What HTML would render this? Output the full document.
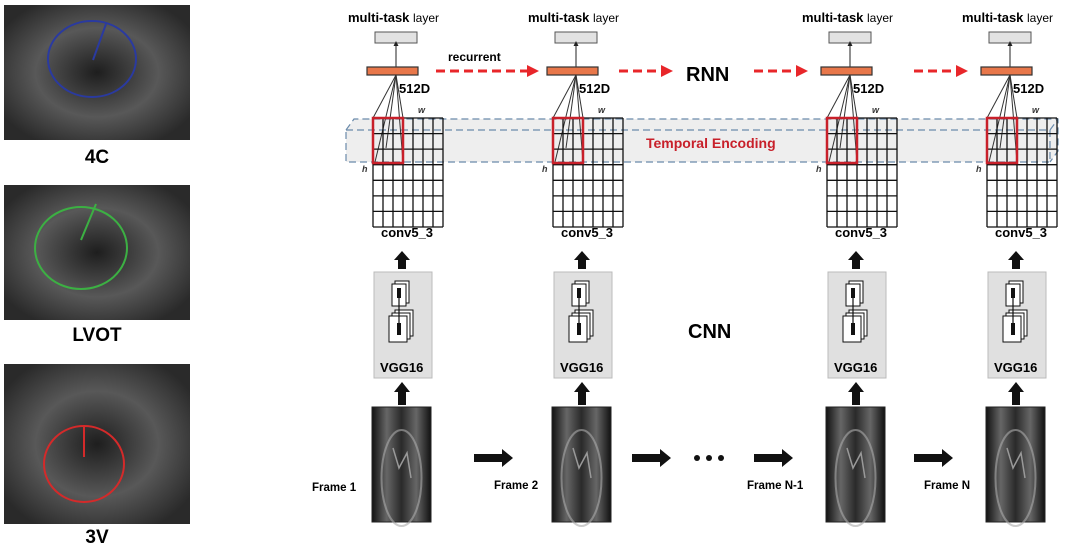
<!DOCTYPE html>
<html><head><meta charset="utf-8"><style>
html,body{margin:0;padding:0;background:#fff;width:1088px;height:548px;overflow:hidden}
svg{display:block}
text{font-family:"Liberation Sans",sans-serif;font-weight:bold}
</style></head><body>
<svg width="1088" height="548" viewBox="0 0 1088 548" xmlns="http://www.w3.org/2000/svg">
<defs>
<radialGradient id="us" cx="50%" cy="50%" r="60%">
<stop offset="0" stop-color="#1e1e1e"/><stop offset="0.55" stop-color="#585858"/><stop offset="1" stop-color="#2a2a2a"/>
</radialGradient>
<linearGradient id="fr" x1="0" y1="0" x2="1" y2="0">
<stop offset="0" stop-color="#111"/><stop offset="0.25" stop-color="#666"/><stop offset="0.5" stop-color="#2a2a2a"/><stop offset="0.75" stop-color="#666"/><stop offset="1" stop-color="#111"/>
</linearGradient>
<g id="col">
<rect x="2" y="-86" width="42" height="11" fill="#e2e2e2" stroke="#555" stroke-width="1"/>
<line x1="23" y1="-51" x2="23" y2="-74" stroke="#222" stroke-width="1"/>
<path d="M20.5,-72 L23,-77 L25.5,-72Z" fill="#222"/>
<rect x="-6" y="-51" width="51" height="8" fill="#e8774a" stroke="#333" stroke-width="1.2"/>
<g stroke="#333" stroke-width="1" fill="none">
<line x1="23" y1="-43" x2="0" y2="0"/><line x1="23" y1="-43" x2="30" y2="0"/>
<line x1="23" y1="-43" x2="2" y2="44"/><line x1="23" y1="-43" x2="30" y2="44"/>
<line x1="23" y1="-43" x2="13" y2="30"/>
</g>
<g stroke="#111" stroke-width="1.3">
<line x1="0" y1="0" x2="0" y2="109"/><line x1="10" y1="0" x2="10" y2="109"/><line x1="20" y1="0" x2="20" y2="109"/><line x1="30" y1="0" x2="30" y2="109"/><line x1="40" y1="0" x2="40" y2="109"/><line x1="50" y1="0" x2="50" y2="109"/><line x1="60" y1="0" x2="60" y2="109"/><line x1="70" y1="0" x2="70" y2="109"/>
<line x1="0" y1="0" x2="70" y2="0"/><line x1="0" y1="15.6" x2="70" y2="15.6"/><line x1="0" y1="31.1" x2="70" y2="31.1"/><line x1="0" y1="46.7" x2="70" y2="46.7"/><line x1="0" y1="62.3" x2="70" y2="62.3"/><line x1="0" y1="77.9" x2="70" y2="77.9"/><line x1="0" y1="93.4" x2="70" y2="93.4"/><line x1="0" y1="109" x2="70" y2="109"/>
</g>
<rect x="0" y="0" width="30" height="45" fill="none" stroke="#c8202a" stroke-width="2.5"/>
<path d="M25,151 v-9 h-4 l8,-9 l8,9 h-4 v9z" fill="#111"/>
<rect x="1" y="154" width="58" height="106" fill="#e0e0e0" stroke="#bbb"/>
<rect x="22" y="163" width="14" height="22" fill="#fff" stroke="#111"/>
<rect x="19" y="166" width="14" height="22" fill="#fff" stroke="#111"/>
<rect x="24" y="170" width="4" height="10" fill="#111"/>
<rect x="22" y="192" width="18" height="26" fill="#fff" stroke="#111"/>
<rect x="19" y="195" width="18" height="26" fill="#fff" stroke="#111"/>
<rect x="16" y="198" width="18" height="26" fill="#fff" stroke="#111"/>
<line x1="26" y1="180" x2="26" y2="215" stroke="#111" stroke-width="1.2"/>
<rect x="24" y="205" width="4" height="12" fill="#111"/>
<path d="M25,287 v-13 h-4 l8,-10 l8,10 h-4 v13z" fill="#111"/>
<rect x="-1" y="289" width="59" height="115" fill="url(#fr)" stroke="#222"/>
<ellipse cx="28.5" cy="360" rx="20" ry="48" fill="none" stroke="#aaa" stroke-width="2" opacity="0.6"/>
<path d="M20,330 l6,20 l8,-15 l4,25" fill="none" stroke="#999" stroke-width="1.5"/>
</g>
<g id="harr"><path d="M0,454 h28 v-5 l11,9 l-11,9 v-5 h-28z" fill="#111"/></g>
</defs>

<!-- left images -->
<rect x="4" y="5" width="186" height="135" fill="url(#us)"/>
<ellipse cx="92" cy="59" rx="44" ry="38" fill="none" stroke="#2a3aa0" stroke-width="2"/>
<line x1="93" y1="60" x2="106" y2="24" stroke="#2a3aa0" stroke-width="2"/>
<text x="97" y="163" font-size="19" text-anchor="middle">4C</text>
<rect x="4" y="185" width="186" height="135" fill="url(#us)"/>
<ellipse cx="81" cy="248" rx="46" ry="41" fill="none" stroke="#3cb043" stroke-width="2"/>
<line x1="81" y1="240" x2="96" y2="204" stroke="#3cb043" stroke-width="2"/>
<text x="97" y="341" font-size="19" text-anchor="middle">LVOT</text>
<rect x="4" y="364" width="186" height="160" fill="url(#us)"/>
<ellipse cx="84" cy="464" rx="40" ry="38" fill="none" stroke="#d42a2a" stroke-width="2"/>
<line x1="84" y1="426" x2="84" y2="457" stroke="#d42a2a" stroke-width="2"/>
<text x="97" y="543" font-size="19" text-anchor="middle">3V</text>

<!-- temporal band -->
<path d="M354,119 H1058 V151 L1050,162 H346 V130Z" fill="#eeeeee" stroke="none"/>
<g fill="none" stroke="#6b8bab" stroke-width="1.2" stroke-dasharray="7,4">
<path d="M346,130 H1050 V162 H346Z"/>
<path d="M346,130 L354,119 H1058 V151 L1050,162"/>
<line x1="1050" y1="130" x2="1058" y2="119"/>
</g>

<use href="#col" transform="translate(373,118)"/>
<use href="#col" transform="translate(553,118)"/>
<use href="#col" transform="translate(827,118)"/>
<use href="#col" transform="translate(987,118)"/>

<g font-size="13">
<text x="348" y="22">multi-task <tspan font-size="12" font-weight="normal">layer</tspan></text>
<text x="528" y="22">multi-task <tspan font-size="12" font-weight="normal">layer</tspan></text>
<text x="802" y="22">multi-task <tspan font-size="12" font-weight="normal">layer</tspan></text>
<text x="962" y="22">multi-task <tspan font-size="12" font-weight="normal">layer</tspan></text>
<text x="399" y="93">512D</text><text x="579" y="93">512D</text><text x="853" y="93">512D</text><text x="1013" y="93">512D</text>
<text x="381" y="237">conv5_3</text><text x="561" y="237">conv5_3</text><text x="835" y="237">conv5_3</text><text x="995" y="237">conv5_3</text>
<text x="380" y="372">VGG16</text><text x="560" y="372">VGG16</text><text x="834" y="372">VGG16</text><text x="994" y="372">VGG16</text>
</g>
<g font-size="9" font-style="italic" font-weight="normal" fill="#333">
<text x="418" y="113">w</text><text x="598" y="113">w</text><text x="872" y="113">w</text><text x="1032" y="113">w</text>
<text x="362" y="172">h</text><text x="542" y="172">h</text><text x="816" y="172">h</text><text x="976" y="172">h</text>
</g>
<g font-size="11.5">
<text x="312" y="491">Frame 1</text><text x="494" y="489">Frame 2</text><text x="747" y="489">Frame N-1</text><text x="924" y="489">Frame N</text>
</g>
<text x="448" y="61" font-size="12">recurrent</text>
<text x="686" y="81" font-size="20">RNN</text>
<text x="688" y="338" font-size="20">CNN</text>
<text x="646" y="148" font-size="14" fill="#c8202a">Temporal Encoding</text>

<g stroke="#e8262a" stroke-width="3" stroke-dasharray="9,5" fill="none">
<line x1="436" y1="71" x2="528" y2="71"/>
<line x1="619" y1="71" x2="662" y2="71"/>
<line x1="754" y1="71" x2="797" y2="71"/>
<line x1="914" y1="71" x2="957" y2="71"/>
</g>
<g fill="#e8262a">
<path d="M527,65 l12,6 l-12,6z"/><path d="M661,65 l12,6 l-12,6z"/><path d="M796,65 l12,6 l-12,6z"/><path d="M956,65 l12,6 l-12,6z"/>
</g>

<use href="#harr" transform="translate(474,0)"/>
<use href="#harr" transform="translate(632,0)"/>
<use href="#harr" transform="translate(754,0)"/>
<use href="#harr" transform="translate(914,0)"/>
<g fill="#111"><circle cx="697" cy="458" r="3"/><circle cx="709" cy="458" r="3"/><circle cx="721" cy="458" r="3"/></g>
</svg>
</body></html>
